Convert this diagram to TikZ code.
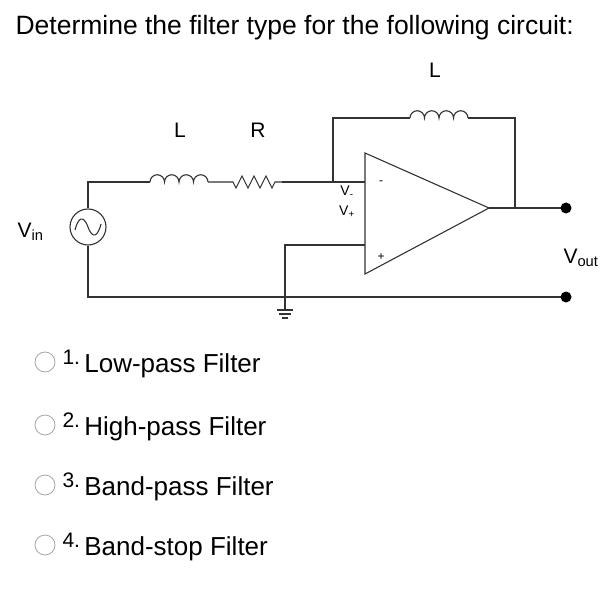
\documentclass[tikz,border=0pt]{standalone}
\usepackage{fontspec}
\setmainfont{Liberation Sans}
\usetikzlibrary{calc}
\begin{document}
\begin{tikzpicture}[x=1pt,y=-1pt,
  w/.style={line width=1.1pt,gray!40!black},
  lbl/.style={font=\fontsize{21}{21}\selectfont},
  opt/.style={anchor=west,font=\fontsize{26}{26}\selectfont},
  radio/.style={circle,draw=gray!70,line width=0.8pt,minimum size=20pt,inner sep=0pt}]
\useasboundingbox (0,0) rectangle (616,596);
\node[anchor=west,font=\fontsize{26.5}{26.5}\selectfont] (title) at (12,28) {Determine the filter type for the following circuit:};
% source
\node[circle,draw,w,minimum size=36pt,inner sep=0pt] (src) at (88,227) {};
\draw[w] ($(src)+(-13,3)$) .. controls ($(src)+(-8,-16)$) and ($(src)+(-2,-6)$) .. ($(src)$) .. controls ($(src)+(2,6)$) and ($(src)+(8,16)$) .. ($(src)+(13,-3)$);
\node[lbl,anchor=west] (vin) at (14,232) {V\textsubscript{in}};
% coordinates
\coordinate (tl) at (88,182);
\coordinate (l1a) at (150,182); \coordinate (l1b) at (208,182);
\coordinate (r1a) at (228,182); \coordinate (r1b) at (282,182);
\coordinate (j) at (333,182);
\coordinate (inm) at (365,182); \coordinate (inp) at (365,245);
\coordinate (ft) at (333,118); \coordinate (l2a) at (410,118); \coordinate (l2b) at (468,118);
\coordinate (fr) at (515,118); \coordinate (tip) at (489,208); \coordinate (fo) at (515,208);
\coordinate (o1) at (566,208); \coordinate (bl) at (88,297); \coordinate (o2) at (566,297);
\coordinate (g) at (285,245); \coordinate (gb) at (285,310);
\draw[w] (src.north) -- (tl) -- (l1a);
\draw[w] (l1a) \foreach \i in {0,...,3} {arc[start angle=180,end angle=360,radius=7.25]} ;
\draw[w] (l1b) -- (r1a) -- ++(5,0) -- ++(3,6) -- ++(6,-12) -- ++(6,12) -- ++(6,-12) -- ++(6,12) -- ++(6,-12) -- ++(6,12) -- ++(3,-6) -- (r1b);
\draw[w] (r1b) -- (j) -- (inm);
\draw[w] (j) -- (ft) -- (l2a);
\draw[w] (l2a) \foreach \i in {0,...,3} {arc[start angle=180,end angle=360,radius=7.25]} ;
\draw[w] (l2b) -- (fr) -- (fo);
\draw[w] (365,153) -- (365,274) -- (tip) -- cycle;
\draw[w] (tip) -- (o1);
\draw[w] (inp) -- (g) -- (gb);
\draw[w] (277,310) -- (293,310) (279,314) -- (291,314) (282,318) -- (288,318);
\draw[w] (src.south) -- (bl) -- (o2);
\fill[black] (o1) circle (5.5) (o2) circle (5.5);
\node[font=\large] (minus) at (381,183) {-};
\node[font=\large] (plus) at (381,257) {+};
\node[font=\fontsize{14}{14}\selectfont] (vm) at (347,192) {V\textsubscript{-}};
\node[font=\fontsize{14}{14}\selectfont] (vp) at (347,212) {V\textsubscript{+}};
\node[lbl] (lt1) at (180,130) {L};
\node[lbl] (rt) at (258,130) {R};
\node[lbl] (lt2) at (435,70) {L};
\node[lbl,anchor=west] (vout) at (560,258) {V\textsubscript{out}};
% options
\foreach \n/\t/\y in {1/Low-pass Filter/362,2/High-pass Filter/425,3/Band-pass Filter/485,4/Band-stop Filter/545}{
  \node[radio] (r\n) at (45,\y) {};
  \node[opt] (o\n) at (59,\y+2) {\raisebox{8pt}{\fontsize{21}{21}\selectfont\n.}\,\t};
}
\end{tikzpicture}
\end{document}
